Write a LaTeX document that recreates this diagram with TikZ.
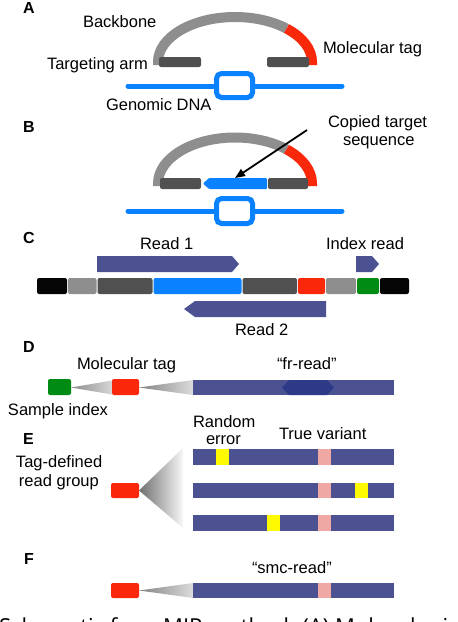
\documentclass[tikz,border=0pt]{standalone}
\usepackage{fontspec}
\setmainfont{Liberation Sans}
\newfontfamily\capfont{Open Sans}
\usetikzlibrary{arrows.meta}
\definecolor{arcgray}{RGB}{142,142,142}
\definecolor{armgray}{RGB}{80,80,80}
\definecolor{tagred}{RGB}{250,40,10}
\definecolor{dnablue}{RGB}{10,130,255}
\definecolor{readblue}{RGB}{76,81,145}
\definecolor{hexblue}{RGB}{45,58,135}
\definecolor{idxgreen}{RGB}{0,140,20}
\definecolor{varpink}{RGB}{240,168,165}
\definecolor{erryellow}{RGB}{255,250,0}
\definecolor{segblack}{RGB}{5,5,5}
\definecolor{seglight}{RGB}{142,142,142}
\begin{document}
\begin{tikzpicture}[x=1pt,y=-1pt,
  lab/.style={font=\fontsize{16.5}{17.5}\selectfont, inner sep=0pt, outer sep=0pt, anchor=base west},
  panel/.style={font=\fontsize{16}{18}\selectfont\bfseries, inner sep=0pt, anchor=base west},
  seg/.style={rounded corners=2pt},
  arcline/.style={line width=10pt},
  dnaline/.style={dnablue, line width=5pt, line cap=round},
  dnabox/.style={dnablue, line width=5pt, fill=white, rounded corners=5pt},
  bar/.style={fill=readblue}]
\useasboundingbox (0,0) rectangle (458,622);
\fill[white] (0,0) rectangle (458,622);

% ---------- Panel A ----------
\node[panel] (labA) at (23,13.3) {A};
\draw[arcgray, arcline] (158,65) -- (158,62) arc[start angle=180, end angle=48, x radius=77pt, y radius=45pt];
\draw[tagred, arcline] (312,65) -- (312,62) arc[start angle=0, end angle=48, x radius=77pt, y radius=45pt];
\fill[armgray, seg] (159,57) rectangle (201,67);
\fill[armgray, seg] (267,57) rectangle (309,67);
\draw[dnaline] (128,86) -- (342,86);
\draw[dnabox] (216.5,73.5) rectangle (252.5,97.5);
\node[lab] (backbone) at (83,27) {Backbone};
\node[lab] (moltagA) at (323,53.5) {Molecular tag};
\node[lab] (tarm) at (47,69.5) {Targeting arm};
\node[lab] (gdna) at (106,110) {Genomic DNA};

% ---------- Panel B ----------
\node[panel] (labB) at (23,132) {B};
\draw[arcgray, arcline] (158,186) -- (158,183.5) arc[start angle=180, end angle=48, x radius=77pt, y radius=46pt];
\draw[tagred, arcline] (312,186) -- (312,183.5) arc[start angle=0, end angle=48, x radius=77pt, y radius=46pt];
\fill[armgray, seg] (160,178) rectangle (201,189);
\fill[armgray, seg] (268,178) rectangle (308,189);
\fill[dnablue, rounded corners=1pt] (267,178) -- (209,178) -- (203,183.5) -- (209,189) -- (267,189) -- cycle;
\draw[dnaline] (128,211) -- (342,211);
\draw[dnabox] (216.5,198.5) rectangle (252.5,223.5);
\node[lab] (copied1) at (328,127.5) {Copied target};
\node[lab] (copied2) at (343,145) {sequence};
\coordinate (arrtail) at (307,130);
\coordinate (copiedtip) at (235,178);
\draw[line width=1.8pt, -{Triangle[length=10pt,width=8pt]}] (arrtail) -- (copiedtip);

% ---------- Panel C ----------
\node[panel] (labC) at (23,243) {C};
\fill[readblue] (97,256) -- (232,256) -- (239,264) -- (232,272) -- (97,272) -- cycle;
\fill[readblue] (356,256) -- (372,256) -- (379,264) -- (372,272) -- (356,272) -- cycle;
\fill[readblue] (326,301) -- (195,301) -- (184,309) -- (195,317) -- (326,317) -- cycle;
\fill[segblack, seg] (37,278) rectangle (67,294);
\fill[seglight, seg] (68,278) rectangle (96.5,294);
\fill[armgray, seg] (97.5,278) rectangle (152.5,294);
\fill[dnablue, seg] (153.5,278) rectangle (241.5,294);
\fill[armgray, seg] (242.5,278) rectangle (297,294);
\fill[tagred, seg] (298,278) rectangle (325,294);
\fill[seglight, seg] (326,278) rectangle (356,294);
\fill[idxgreen, seg] (357,278) rectangle (379,294);
\fill[segblack, seg] (380,278) rectangle (409,294);
\node[lab] (read1) at (140,249) {Read 1};
\node[lab] (idxread) at (326,249) {Index read};
\node[lab] (read2) at (235,335) {Read 2};

% ---------- Panel D ----------
\node[panel] (labD) at (23,352) {D};
\shade[left color={rgb,255:red,140;green,140;blue,140}, right color={rgb,255:red,215;green,215;blue,215}] (71,387.5) -- (112,380.5) -- (112,394.5) -- cycle;
\shade[left color={rgb,255:red,130;green,130;blue,130}, right color={rgb,255:red,220;green,220;blue,220}] (139,387.5) -- (193,380) -- (193,395) -- cycle;
\fill[idxgreen, seg] (48,379) rectangle (71,395);
\fill[tagred, seg] (112,379) rectangle (139,395);
\fill[bar] (193,380) rectangle (394,395);
\fill[hexblue] (282,387.5) -- (289,380) -- (327,380) -- (334,387.5) -- (327,395) -- (289,395) -- cycle;
\node[lab] (moltagD) at (77,369.5) {Molecular tag};
\node[lab] (frread) at (277,369) {“fr-read”};
\node[lab] (sidx) at (8,415.5) {Sample index};

% ---------- Panel E ----------
\node[panel] (labE) at (23,444.5) {E};
\shade[left color={rgb,255:red,110;green,110;blue,110}, right color={rgb,255:red,248;green,248;blue,248}] (139,490.5) -- (183,448) -- (183,528) -- cycle;
\fill[tagred, seg] (111,483) rectangle (139,498);
\fill[bar] (193,449) rectangle (394,465);
\fill[bar] (193,483) rectangle (394,498);
\fill[bar] (193,515) rectangle (394,531);
\fill[varpink] (318,449) rectangle (331,465);
\fill[varpink] (318,483) rectangle (331,498);
\fill[varpink] (318,515) rectangle (331,531);
\fill[erryellow] (216,449) rectangle (229,465);
\fill[erryellow] (355,483) rectangle (368,498);
\fill[erryellow] (267,515) rectangle (280,531);
\node[lab] (random) at (193,427) {Random};
\node[lab] (error) at (206,444) {error};
\node[lab] (truevar) at (279,439) {True variant};
\node[lab] (tagdef) at (16,467.5) {Tag-defined};
\node[lab] (readgrp) at (19,486.5) {read group};

% ---------- Panel F ----------
\node[panel] (labF) at (24,564) {F};
\shade[left color={rgb,255:red,130;green,130;blue,130}, right color={rgb,255:red,220;green,220;blue,220}] (139,590.5) -- (193,583) -- (193,598) -- cycle;
\fill[tagred, seg] (111,583) rectangle (139,598);
\fill[bar] (193,583) rectangle (394,598);
\fill[varpink] (318,583) rectangle (331,598);
\node[lab] (smc) at (252,573.5) {“smc-read”};

% ---------- clipped caption ----------
\begin{scope}
\clip (0,0) rectangle (458,622);
\node[font=\capfont\fontsize{22}{24}\selectfont, anchor=base west, inner sep=0pt] (caption) at (-1,634) {Schematic for a MIP method. (A) Molecular inversion probe};
\end{scope}
\end{tikzpicture}
\end{document}
